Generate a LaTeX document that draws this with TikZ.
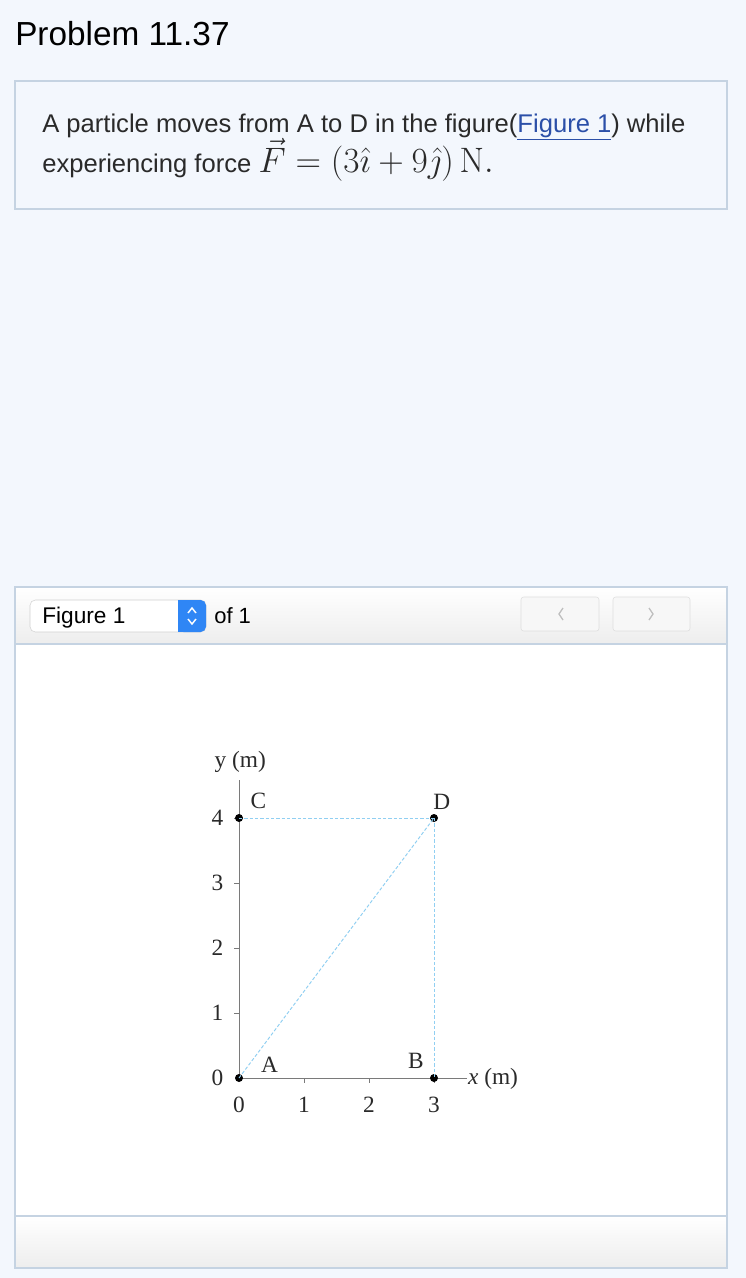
\RequirePackage{fix-cm}
\documentclass[tikz,border=0pt]{standalone}
\usepackage{graphicx}
\usepackage[no-math]{fontspec}
\setmainfont{Liberation Sans}
\newfontfamily\plotfont{Liberation Serif}

\definecolor{pagebg}{HTML}{F3F7FD}
\definecolor{panelline}{HTML}{C5D3E2}
\definecolor{linkblue}{HTML}{2B4FA8}
\definecolor{pathblue}{HTML}{90CFF2}
\definecolor{axisgray}{HTML}{7A7A7A}
\definecolor{btnblue}{HTML}{2F86F5}
\definecolor{inkgray}{HTML}{2A2A2A}

\tikzset{
  panelframe/.style={draw=panelline, line width=1.2},
  barshade/.style={top color=white, bottom color=black!7},
  navbutton/.style={draw=black!13, fill=black!3, rounded corners=2},
  dot/.style={circle, fill=black, inner sep=0pt, minimum size=6pt},
  ptlabel/.style={font=\plotfont\fontsize{17.5}{20}\selectfont, text=inkgray},
  ticklabel/.style={font=\plotfont\fontsize{17.5}{20}\selectfont, text=inkgray},
  pathline/.style={pathblue, line width=0.7, dash pattern=on 2.5pt off 1.5pt}
}

\begin{document}
\begin{tikzpicture}[x=0.75pt, y=-0.75pt]
% page
\fill[pagebg] (0,0) rectangle (746,1278);
\useasboundingbox (0,0) rectangle (746,1278);

% heading and problem text
\node[anchor=base west, inner sep=0pt, font=\fontsize{25}{30}\selectfont] (title) at (15,45) {Problem 11.37};
\draw[panelframe] (15,81) rectangle (727,209);
\node[anchor=base west, inner sep=0pt, font=\fontsize{19.2}{23}\selectfont, text=inkgray] (line1) at (42,132)
  {A particle moves from A to D in the figure(\textcolor{linkblue}{\underline{Figure 1}}) while};
\node[anchor=base west, inner sep=0pt, font=\fontsize{19.2}{23}\selectfont, text=inkgray] (line2) at (42,172)
  {experiencing force \scalebox{1.38}{$\vec{F} = (3\hat{\imath} + 9\hat{\jmath})\,\mathrm{N}.$}};

% figure panel
\fill[white] (15,587) rectangle (727,1268);
\shade[barshade] (15,587) rectangle (727,644);
\shade[barshade] (15,1216) rectangle (727,1268);
\draw[panelframe] (15,587) rectangle (727,1268);
\draw[panelframe] (15,644) -- (727,644);
\draw[panelframe] (15,1216) -- (727,1216);

% figure selector
\draw[black!18, fill=white, rounded corners=4] (30,600) rectangle (206,632);
\fill[btnblue, rounded corners=4] (178,600) rectangle (206,632);
\fill[btnblue] (178,600) rectangle (188,632);
\draw[white, line width=1.1] (188,613) -- (192,608) -- (196,613);
\draw[white, line width=1.1] (188,619) -- (192,624) -- (196,619);
\node[anchor=base west, inner sep=0pt, font=\fontsize{17}{20}\selectfont] (figsel) at (42,623) {Figure 1};
\node[anchor=base west, inner sep=0pt, font=\fontsize{16.5}{20}\selectfont] (figof) at (214,623) {of 1};
\draw[navbutton] (521,597) rectangle (599,631);
\draw[navbutton] (613,597) rectangle (690,631);
\draw[black!25, line width=1] (563,608) -- (559,614) -- (563,620);
\draw[black!25, line width=1] (649,608) -- (653,614) -- (649,620);

% graph
\begin{scope}[shift={(239,1078)}, x=48.75pt, y=48.75pt]
\draw[axisgray, line width=0.7] (0,0) -- (3.5,0);
\draw[axisgray, line width=0.7] (0,0) -- (0,4.58);
\foreach \i in {1,2,3} \draw[axisgray, line width=0.7] (\i,0) -- (\i,-0.07);
\foreach \j in {1,2,3,4} \draw[axisgray, line width=0.7] (0,\j) -- (-0.07,\j);
\foreach \i in {0,1,2,3} \node[ticklabel] at (\i,-0.41) {\i};
\foreach \j in {0,1,2,3,4} \node[ticklabel] at (-0.33,\j) {\j};
\node[ticklabel] (ylab) at (0.02,4.86) {y (m)};
\node[ticklabel, anchor=west, inner sep=0pt] (xlab) at (3.52,-0.02) {\textit{x} (m)};

\node[dot] (A) at (0,0) {};
\node[dot] (B) at (3,0) {};
\node[dot] (C) at (0,4) {};
\node[dot] (D) at (3,4) {};
\draw[pathline] (C.center) -- (D.center);
\draw[pathline] (D.center) -- (B.center);
\draw[pathline] (A.center) -- (D.center);
\node[ptlabel] at (0.47,0.21) {A};
\node[ptlabel] at (2.72,0.27) {B};
\node[ptlabel] at (0.3,4.27) {C};
\node[ptlabel] at (3.12,4.25) {D};
\end{scope}
\end{tikzpicture}
\end{document}
